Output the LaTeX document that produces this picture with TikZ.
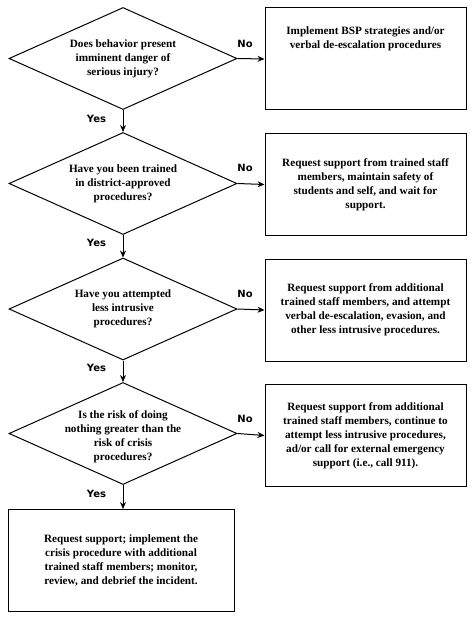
\documentclass[tikz,border=0pt]{standalone}
\usepackage{fontspec}
\setmainfont{Liberation Serif}
\newfontfamily\yesnofont{DejaVu Sans}
\usetikzlibrary{shapes.geometric,arrows.meta}
\begin{document}
\begin{tikzpicture}[x=1pt,y=-1pt,
    decision/.style={diamond,draw,line width=1pt,minimum width=228pt,minimum height=102pt,inner sep=0pt},
    action/.style={draw,line width=1pt,minimum width=201pt,minimum height=102pt,align=center,
      font=\fontsize{11.2}{14}\selectfont\bfseries},
    qtext/.style={align=center,font=\fontsize{11.2}{14}\selectfont\bfseries},
    answer/.style={font=\yesnofont\fontsize{10}{12}\selectfont\bfseries},
    flow/.style={-{Stealth[length=7pt,width=6pt]},line width=1pt}]
  \useasboundingbox (0,0) rectangle (474,620);
  \node[decision] (q1) at (123,58.5) {};
  \node[decision] (q2) at (123,183.5) {};
  \node[decision] (q3) at (123,309) {};
  \node[decision] (q4) at (123,433.5) {};
  \node[qtext] (q1t) at (q1) {Does behavior present\\imminent danger of\\serious injury?};
  \node[qtext] (q2t) at (q2) {Have you been trained\\in district-approved\\procedures?};
  \node[qtext] (q3t) at (q3) {Have you attempted\\less intrusive\\procedures?};
  \node[qtext] (q4t) at (123,437) {Is the risk of doing\\nothing greater than the\\risk of crisis\\procedures?};
  \node[action] (a1) at (365.5,59) {Implement BSP strategies and/or\\verbal de-escalation procedures\\[2.5em]};
  \node[action] (a2) at (365.5,184.5) {Request support from trained staff\\members, maintain safety of\\students and self, and wait for\\support.};
  \node[action] (a3) at (365.5,310) {Request support from additional\\trained staff members, and attempt\\verbal de-escalation, evasion, and\\other less intrusive procedures.};
  \node[action] (a4) at (365.5,435.5) {Request support from additional\\trained staff members, continue to\\attempt less intrusive procedures,\\ad/or call for external emergency\\support (i.e., call 911).};
  \node[action,minimum width=226pt] (a5) at (121,560.5) {Request support; implement the\\crisis procedure with additional\\trained staff members; monitor,\\review, and debrief the incident.};
  \draw[flow] (q1.east) -- (a1.west);
  \draw[flow] (q2.east) -- (a2.west);
  \draw[flow] (q3.east) -- (a3.west);
  \draw[flow] (q4.east) -- (a4.west);
  \draw[flow] (q1.south) -- (q2.north);
  \draw[flow] (q2.south) -- (q3.north);
  \draw[flow] (q3.south) -- (q4.north);
  \draw[flow] (q4.south) -- (q4.south |- a5.north);
  \node[answer] (n1) at (245,44) {No};
  \node[answer] (n2) at (245,168) {No};
  \node[answer] (n3) at (245,294) {No};
  \node[answer] (n4) at (245,419) {No};
  \node[answer] (y1) at (96.5,119) {Yes};
  \node[answer] (y2) at (96.5,243) {Yes};
  \node[answer] (y3) at (96.5,368) {Yes};
  \node[answer] (y4) at (96.5,494) {Yes};
\end{tikzpicture}
\end{document}
